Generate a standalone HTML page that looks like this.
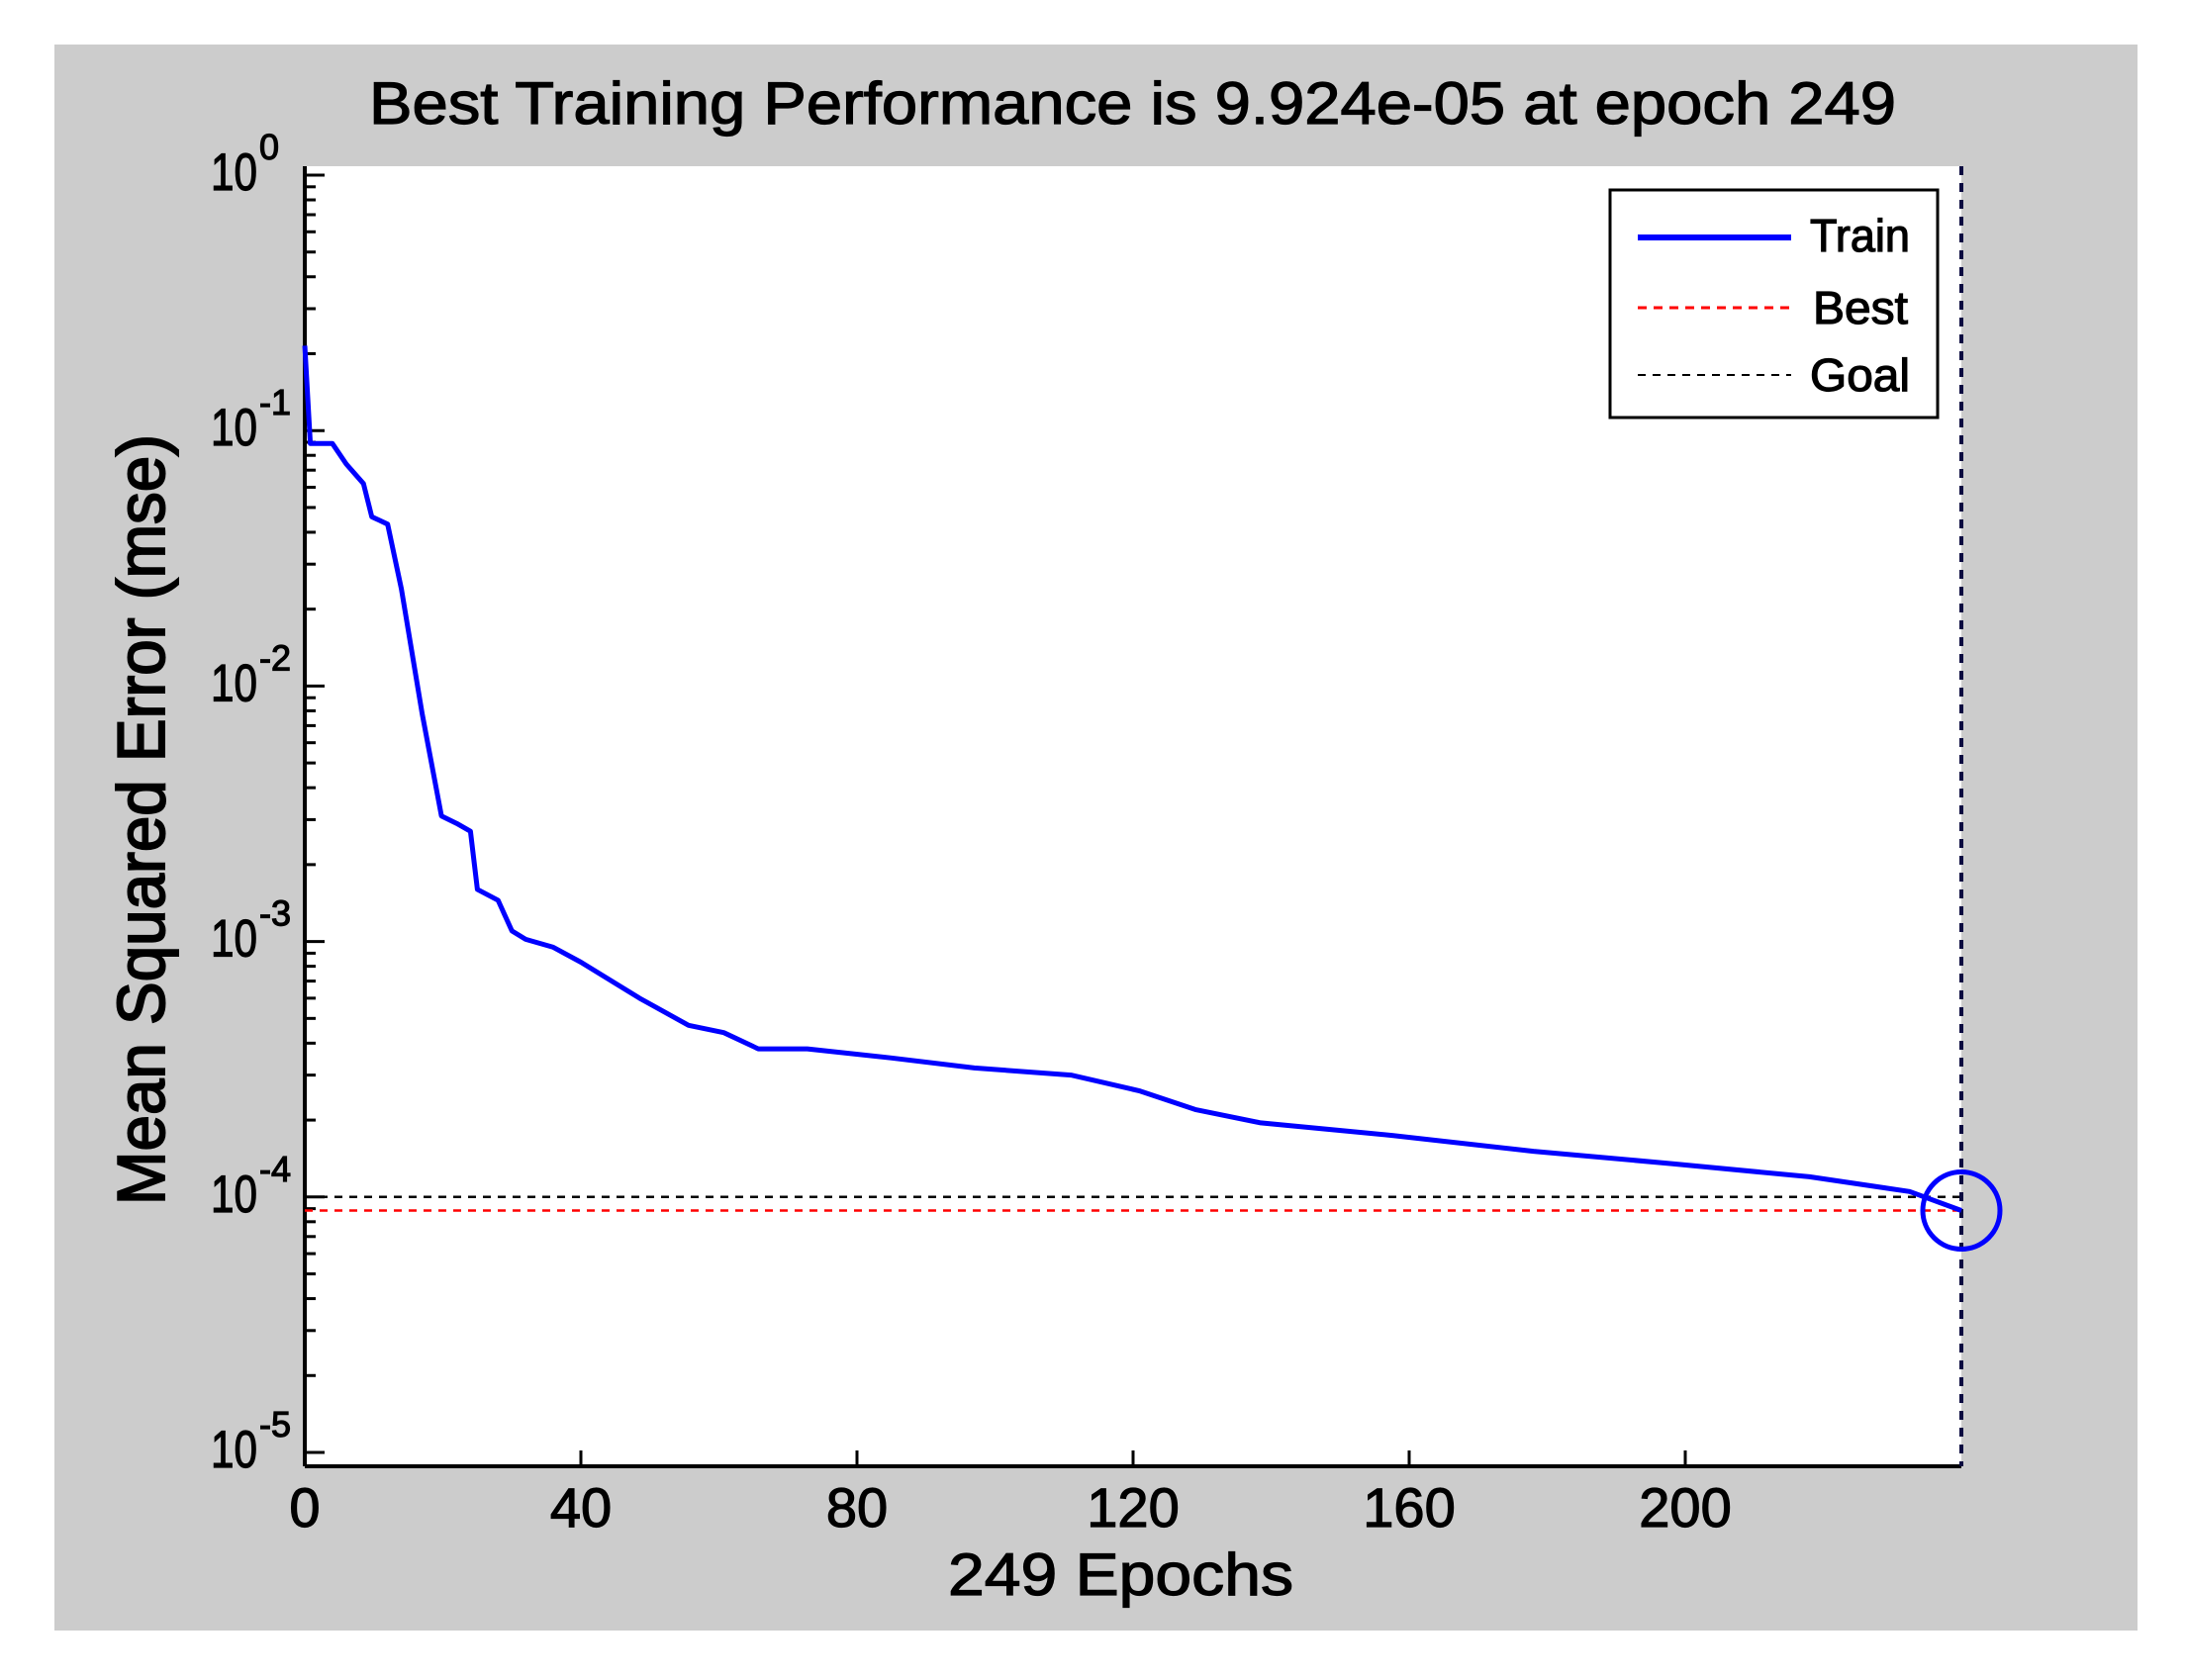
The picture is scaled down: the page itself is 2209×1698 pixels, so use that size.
<!DOCTYPE html>
<html><head><meta charset="utf-8"><style>
html,body{margin:0;padding:0;background:#fff;}
svg{display:block;font-family:"Liberation Sans",Arial,sans-serif;}
svg text{stroke:#000;stroke-width:1.2px;}
</style></head><body>
<svg id="chart" width="2209" height="1698" viewBox="0 0 2209 1698" xmlns="http://www.w3.org/2000/svg">
<rect x="55" y="45" width="2105" height="1603" fill="#cccccc"/>
<rect x="308" y="168" width="1674" height="1314" fill="#ffffff"/>
<text x="373" y="125" font-size="60" textLength="1543" lengthAdjust="spacingAndGlyphs" fill="#000">Best Training Performance is 9.924e-05 at epoch 249</text>
<text transform="translate(166,1218) rotate(-90)" font-size="68" textLength="779" lengthAdjust="spacingAndGlyphs" fill="#000" style="stroke-width:2px">Mean Squared Error (mse)</text>
<text x="958" y="1612" font-size="60" textLength="349" lengthAdjust="spacingAndGlyphs" fill="#000">249 Epochs</text>
<g id="axes"></g>
<g id="series"></g>
<g>
<rect x="1627" y="192" width="331" height="230" fill="#fff" stroke="#000" stroke-width="3"/>
<line x1="1655" y1="240" x2="1810" y2="240" stroke="#0000ff" stroke-width="6"/>
<text x="1829" y="254" font-size="46" textLength="101" lengthAdjust="spacingAndGlyphs">Train</text>
<line x1="1655" y1="311" x2="1810" y2="311" stroke="#ff0000" stroke-width="3" stroke-dasharray="9,7"/>
<text x="1832" y="327" font-size="46" textLength="96" lengthAdjust="spacingAndGlyphs">Best</text>
<line x1="1655" y1="379" x2="1810" y2="379" stroke="#000" stroke-width="2" stroke-dasharray="8,7"/>
<text x="1829" y="395" font-size="46" textLength="101" lengthAdjust="spacingAndGlyphs">Goal</text>
</g>
</svg>
<script>
const epochs = [0,0.8,4,6,8.5,9.7,12,14,17,19.8,22,24,25,28,30,32,36,40,48.5,55.6,60.7,65.7,72.8,85,97,111,121,129,138.5,157.7,178,198,218,232.5,240];
const mse = [0.215,0.089,0.089,0.074,0.062,0.046,0.043,0.024,0.0078,0.0031,0.0029,0.0027,0.0016,0.00145,0.0011,0.00102,0.00095,0.00083,0.0006,0.00047,0.00044,0.00038,0.00038,0.00035,0.00032,0.0003,0.00026,0.00022,0.000195,0.000174,0.000151,0.000135,0.00012,0.000105,0.0000885];
const xTicks = [0,40,80,120,160,200];
const yDecades = [0,-1,-2,-3,-4,-5];
const goalValue = 0.0001;
const bestValue = 0.0000885;
const bestEpoch = 240;

const L=308,R=1982,T=177,B=1468,BOT=1482,XMAX=240;
const sx=e=>L+(e/XMAX)*(R-L);
const sy=v=>T+(-Math.log10(v))*(B-T)/5;
const NS="http://www.w3.org/2000/svg";
function mk(tag,attrs,parent){const el=document.createElementNS(NS,tag);for(const k in attrs)el.setAttribute(k,attrs[k]);parent.appendChild(el);return el;}
const axes=document.getElementById('axes');
const series=document.getElementById('series');

let xl=mk('line',{x1:L,y1:BOT,x2:R,y2:BOT,stroke:'#000','stroke-width':4},axes);


let yl=mk('line',{x1:L,y1:168,x2:L,y2:BOT,stroke:'#000','stroke-width':4},axes);


xTicks.forEach(t=>{
  const x=sx(t);
  const tk=mk('line',{x1:x,y1:BOT,x2:x,y2:BOT-16,stroke:'#000','stroke-width':3},axes);
  
  
  const lb=mk('text',{x:x,y:1543,'font-size':56,'text-anchor':'middle'},axes);
  lb.textContent=String(t);
  
  
});
yDecades.forEach(d=>{
  const y=sy(Math.pow(10,d));
  const tk=mk('line',{x1:L,y1:y,x2:L+20,y2:y,stroke:'#000','stroke-width':3},axes);
  
  
  const lb=mk('text',{x:213,y:y+15,'font-size':53,textLength:47,lengthAdjust:'spacingAndGlyphs'},axes);
  lb.textContent='10';
  
  
  const ex=mk('text',{x:262,y:y-16,'font-size':36},axes);
  ex.textContent=String(d);
  
  
  if(d>-5){for(let m=2;m<=9;m++){
    const yy=sy(m*Math.pow(10,d-1));
    const mt=mk('line',{x1:L,y1:yy,x2:L+11,y2:yy,stroke:'#000','stroke-width':3},axes);
    
    
  }}
});
const gl=mk('line',{x1:L,y1:sy(goalValue),x2:R,y2:sy(goalValue),stroke:'#000','stroke-width':2.5,'stroke-dasharray':'8,7'},series);


const bl=mk('line',{x1:L,y1:sy(bestValue),x2:R,y2:sy(bestValue),stroke:'#ff0000','stroke-width':2.5,'stroke-dasharray':'8,7'},series);


const vl=mk('line',{x1:sx(bestEpoch),y1:168,x2:sx(bestEpoch),y2:BOT,stroke:'#0a0a40','stroke-width':4,'stroke-dasharray':'9,8'},series);


const pts=epochs.map((e,i)=>sx(e).toFixed(1)+','+sy(mse[i]).toFixed(1)).join(' ');
const tl=mk('polyline',{points:pts,fill:'none',stroke:'#0000ff','stroke-width':5,'stroke-linejoin':'round'},series);


const c=mk('circle',{cx:sx(bestEpoch),cy:sy(bestValue),r:39,fill:'none',stroke:'#0000ff','stroke-width':5},series);


</script>
</body></html>
